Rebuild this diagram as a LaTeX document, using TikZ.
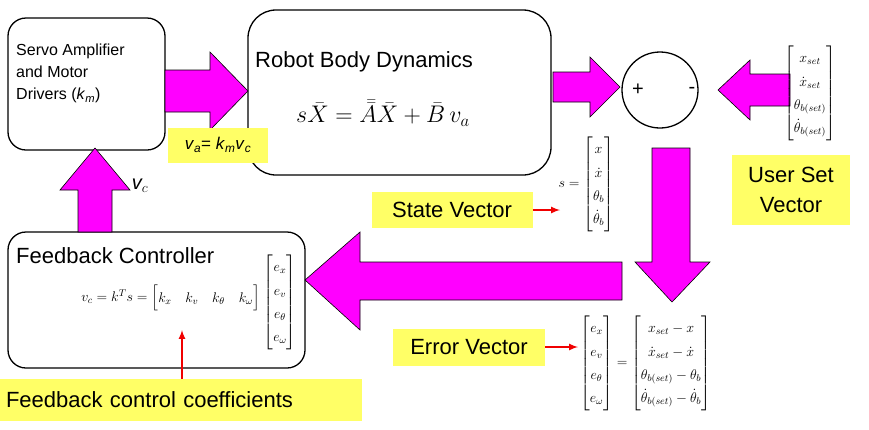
\RequirePackage{fix-cm}
\documentclass[tikz,border=0pt]{standalone}
\usepackage{amsmath}
\usepackage{fontspec}
\setmainfont{Liberation Sans}
\begin{document}
\begin{tikzpicture}[x=1pt,y=-1pt,
  box/.style={draw,line width=1.3pt,rounded corners=18pt},
  fat/.style={fill={rgb,255:red,255;green,0;blue,255},draw=black,line width=0.6pt},
  ylw/.style={fill={rgb,255:red,255;green,255;blue,102},inner sep=0pt},
  lbl/.style={font=\fontsize{22}{24}\selectfont},
  red/.style={draw={rgb,255:red,240;green,0;blue,0},line width=2pt,-latex},
  mat/.style={font=\fontsize{14}{16}\selectfont,inner sep=0pt}]
\useasboundingbox (0,0) rectangle (869,429);
% boxes
\draw[box] (8,18) rectangle (165,150);
\node[anchor=north west,align=left,font=\fontsize{16}{22}\selectfont,inner sep=0pt] (servo) at (16,44) {Servo Amplifier\\and Motor\\Drivers (\textit{k}$_{\textit{m}}$)};
\draw[box,rounded corners=28pt] (248,10) rectangle (551,175);
\node[lbl,anchor=west,inner sep=0pt] (rbd) at (255,62) {Robot Body Dynamics};
\node[font=\fontsize{24}{26}\selectfont,inner sep=0pt] (eq1) at (383,113) {$s\bar{X} = \bar{\bar{A}}\bar{X} + \bar{B}\,v_a$};
\draw[box] (8,232) rectangle (305,368);
\node[lbl,anchor=west,inner sep=0pt] (fb) at (16,256) {Feedback Controller};
% circle
\draw[line width=1.3pt] (660,90) circle (38);
\node[font=\fontsize{20}{20}\selectfont] (plus) at (638,90) {+};
\node[font=\fontsize{20}{20}\selectfont] (minus) at (692,90) {-};
% fat arrows
\draw[fat] (165,70) -- (210,70) -- (210,52) -- (248,91) -- (210,130) -- (210,112) -- (165,112) -- cycle;
\draw[fat] (553,72) -- (590,72) -- (590,57) -- (620,87) -- (590,117) -- (590,102) -- (553,102) -- cycle;
\draw[fat] (790,74) -- (750,74) -- (750,60) -- (718,90) -- (750,120) -- (750,106) -- (790,106) -- cycle;
\draw[fat] (652,148) -- (690,148) -- (690,262) -- (710,262) -- (672,302) -- (635,262) -- (652,262) -- cycle;
\draw[fat] (622,262) -- (360,262) -- (360,232) -- (305,280) -- (360,330) -- (360,300) -- (622,300) -- cycle;
\draw[fat] (78,232) -- (78,190) -- (60,190) -- (95,148) -- (130,190) -- (112,190) -- (112,232) -- cycle;
\node[font=\fontsize{20}{20}\selectfont\itshape] (vc) at (140,186) {v$_{c}$};
% yellow labels
\node[ylw,minimum width=100,minimum height=35,font=\fontsize{17}{17}\selectfont] (va) at (218,145) {\textit{v}$_{\textit{a}}$= \textit{k}$_{\textit{m}}$\textit{v}$_{\textit{c}}$};
\node[ylw,lbl,minimum width=161,minimum height=36] (sv) at (452,210) {State Vector};
\node[ylw,lbl,minimum width=118,minimum height=70,align=center,font=\fontsize{22}{30}\selectfont] (usv) at (791,190) {User Set\\Vector};
\node[ylw,lbl,minimum width=152,minimum height=37] (ev) at (469,347) {Error Vector};
\node[ylw,lbl,minimum width=362,minimum height=42,text width=350] (fcc) at (181,400) {Feedback control coefficients};
% matrices
\renewcommand{\arraystretch}{1.45}
\node[mat] (xset) at (810,93) {$\begin{bmatrix} x_{set}\\ \dot{x}_{set}\\ \theta_{b(set)}\\ \dot\theta_{b(set)}\end{bmatrix}$};
\node[mat,anchor=east] (smat) at (614,184) {$s=\begin{bmatrix} x\\ \dot{x}\\ \theta_b\\ \dot\theta_b\end{bmatrix}$};
\node[mat] (emat) at (280,302) {$\begin{bmatrix} e_x\\ e_v\\ e_\theta\\ e_\omega\end{bmatrix}$};
\node[mat,anchor=east] (keq) at (260,298) {$v_c = k^T s = \begin{bmatrix} k_x & \;k_v & \;k_\theta & \;k_\omega\end{bmatrix}$};
\node[mat,anchor=west] (eeq) at (580,363) {$\begin{bmatrix} e_x\\ e_v\\ e_\theta\\ e_\omega\end{bmatrix}=\begin{bmatrix} x_{set}-x\\ \dot{x}_{set}-\dot{x}\\ \theta_{b(set)}-\theta_b\\ \dot\theta_{b(set)}-\dot\theta_b\end{bmatrix}$};
% red arrows
\draw[red] (sv.east) -- (560,210);
\draw[red] (ev.east) -- (578,347);
\draw[red] (182,379) -- (182,330);
\end{tikzpicture}
\end{document}
